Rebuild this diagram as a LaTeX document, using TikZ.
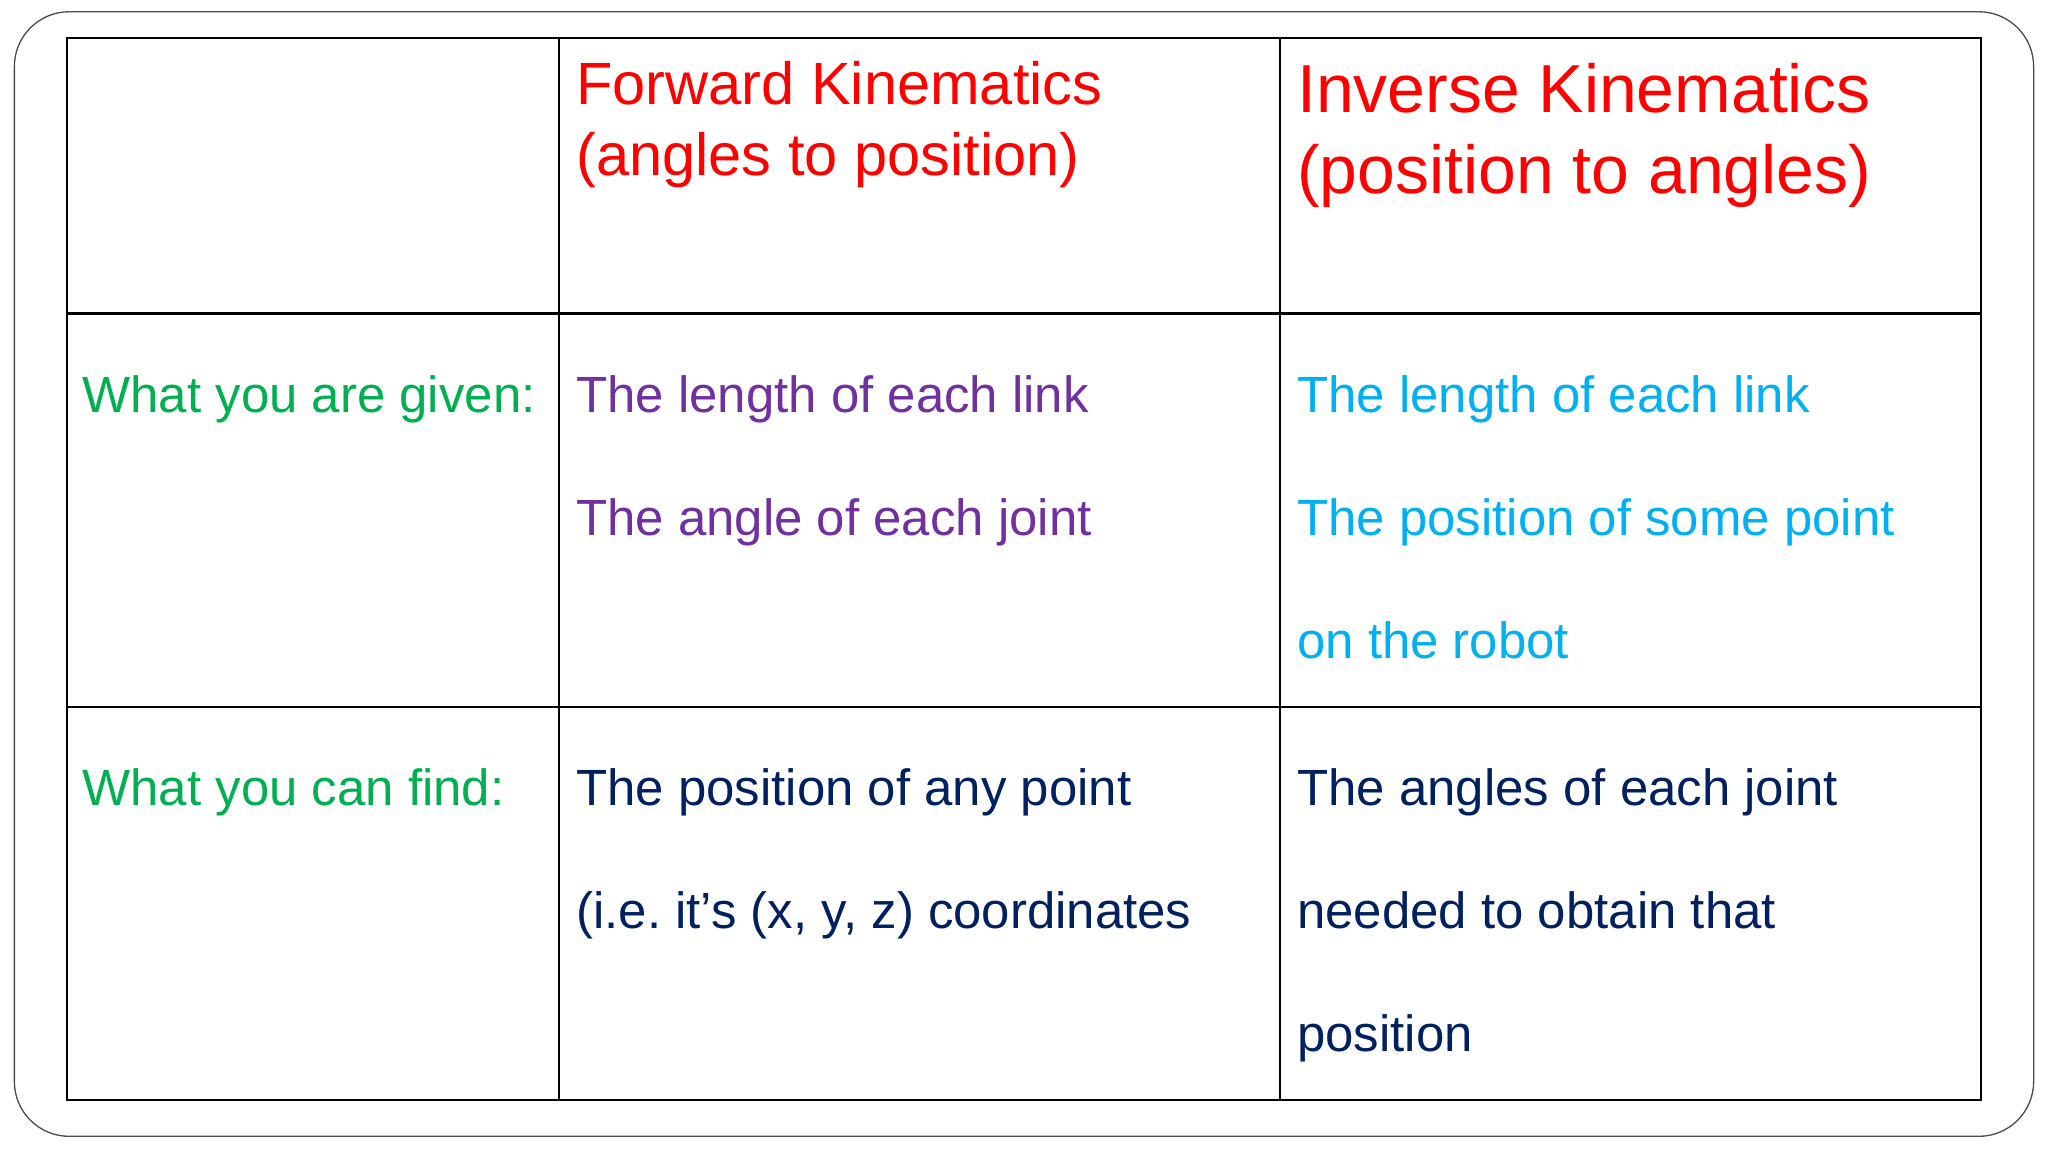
\documentclass[tikz,border=0pt]{standalone}
\usepackage{fontspec}
\setmainfont{Liberation Sans}
\usetikzlibrary{calc}
\definecolor{headred}{RGB}{255,0,0}
\definecolor{rowgreen}{RGB}{0,176,80}
\definecolor{fkpurple}{RGB}{112,48,160}
\definecolor{ikblue}{RGB}{0,176,240}
\definecolor{navy}{RGB}{0,32,96}
\frenchspacing
\begin{document}
\begin{tikzpicture}[x=1pt,y=-1pt,
  cell/.style={anchor=base west,inner sep=0pt,font=\fontsize{39}{39}\selectfont},
  grid/.style={line width=1.6pt,black}]
%
\def\tl{51};
\def\tr{1517};
\def\tt{29};
\def\tb{842};
\def\ca{428};
\def\cb{980};
\def\ra{240};
\def\rb{541};
%
\useasboundingbox (0,0) rectangle (1568,882);
\draw[gray!60!black,line width=1pt,rounded corners=42pt](11,9) rectangle (1557,870);
%
\coordinate (NW) at (\tl,\tt);
\coordinate (SE) at (\tr,\tb);
\draw[grid](NW) rectangle (SE);
\draw[grid](\ca,\tt)--(\ca,\tb);
\draw[grid](\cb,\tt)--(\cb,\tb);
\draw[grid](\tl,\ra)--(\tr,\ra);
\draw[grid](\tl,\rb)--(\tr,\rb);
%
\node[cell,headred,font=\fontsize{45.6}{45.6}\selectfont] (fk1) at (441,80) {Forward Kinematics};
\node[cell,headred,font=\fontsize{45.6}{45.6}\selectfont] (fk2) at (441,134) {(angles to position)};
\node[cell,headred,font=\fontsize{52}{52}\selectfont] (ik1) at (993,86) {Inverse Kinematics};
\node[cell,headred,font=\fontsize{52}{52}\selectfont] (ik2) at (993,148) {(position to angles)};
%
\node[cell,rowgreen] (given) at (63,316) {What you are given:};
\node[cell,rowgreen] (find) at (63,617) {What you can find:};
%
\node[cell,fkpurple] (fg1) at (441,316) {The length of each link};
\node[cell,fkpurple] (fg2) at (441,410) {The angle of each joint};
\node[cell,ikblue] (ig1) at (993,316) {The length of each link};
\node[cell,ikblue] (ig2) at (993,410) {The position of some point};
\node[cell,ikblue] (ig3) at (993,504) {on the robot};
%
\node[cell,navy] (ff1) at (441,617) {The position of any point};
\node[cell,navy] (ff2) at (441,711) {(i.e. it’s (x, y, z) coordinates};
\node[cell,navy] (if1) at (993,617) {The angles of each joint};
\node[cell,navy] (if2) at (993,711) {needed to obtain that};
\node[cell,navy] (if3) at (993,805) {position};
%
\end{tikzpicture}
\end{document}
